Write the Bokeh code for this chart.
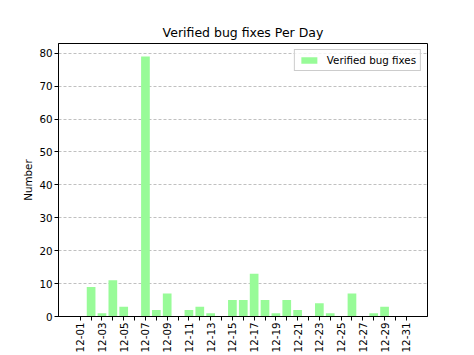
import math
from bokeh.plotting import figure
from bokeh.models import Range1d, FixedTicker, ColumnDataSource, Legend, LegendItem
from bokeh.embed import file_html
from bokeh.resources import INLINE

dates = ["12-%02d" % d for d in range(1, 32)]
fixes = [0, 9, 1, 11, 3, 0, 79, 2, 7, 0, 2, 3, 1, 0, 5, 5, 13, 5, 1, 5, 2, 0, 4, 1, 0, 7, 0, 1, 3, 0, 0]
y_ticks = [0, 10, 20, 30, 40, 50, 60, 70, 80]

FONT = "DejaVu Sans"

idx = list(range(len(dates)))
src = ColumnDataSource(dict(x=idx, top=fixes))

p = figure(width=474, height=355, output_backend="svg", toolbar_location=None,
           x_range=Range1d(-2.0, 31.95), y_range=Range1d(0, max(fixes) * 1.05),
           min_border_left=58, min_border_right=47, min_border_top=43, min_border_bottom=39,
           title="Verified bug fixes Per Day")

r = p.vbar(x="x", top="top", width=0.8, source=src, fill_color="#98FB98", line_color=None)

p.title.align = "center"
p.title.text_font = FONT
p.title.text_font_size = "12.5px"
p.title.text_font_style = "normal"
p.title.text_color = "black"
p.title.offset = 0
p.title.standoff = 8

p.outline_line_color = "black"
p.outline_line_width = 1
p.background_fill_color = "white"
p.border_fill_color = "white"

p.xgrid.grid_line_color = None
p.ygrid.grid_line_color = "#b0b0b0"
p.ygrid.grid_line_dash = "3 2"
p.ygrid.grid_line_width = 0.8
p.ygrid.ticker = FixedTicker(ticks=y_ticks)

p.xaxis.ticker = FixedTicker(ticks=idx)
p.xaxis.major_label_overrides = {i: (d if i % 2 == 0 else "") for i, d in zip(idx, dates)}
p.xaxis.major_label_orientation = math.pi / 2
p.yaxis.ticker = FixedTicker(ticks=y_ticks)
p.yaxis.axis_label = "Number"

for ax in (p.xaxis[0], p.yaxis[0]):
    ax.axis_line_color = "black"
    ax.major_tick_line_color = "black"
    ax.major_tick_out = 4
    ax.major_tick_in = 0
    ax.minor_tick_line_color = None
    ax.major_label_text_font = FONT
    ax.major_label_text_font_size = "10.3px"
    ax.major_label_text_color = "black"
    ax.major_label_standoff = 2
    ax.axis_label_text_font = FONT
    ax.axis_label_text_font_size = "10.3px"
    ax.axis_label_text_font_style = "normal"
    ax.axis_label_text_color = "black"
    ax.axis_label_standoff = 2

legend = Legend(items=[LegendItem(label="Verified bug fixes", renderers=[r])],
                location="top_right")
legend.label_text_font = FONT
legend.label_text_font_size = "10.3px"
legend.label_text_color = "black"
legend.border_line_color = "#cccccc"
legend.border_line_alpha = 1
legend.background_fill_alpha = 0.8
legend.margin = 6
legend.padding = 4
legend.spacing = 0
legend.glyph_width = 20
legend.glyph_height = 8
legend.label_standoff = 8
legend.label_height = 11
p.add_layout(legend)

open("out.html", "w").write(file_html(p, INLINE))
